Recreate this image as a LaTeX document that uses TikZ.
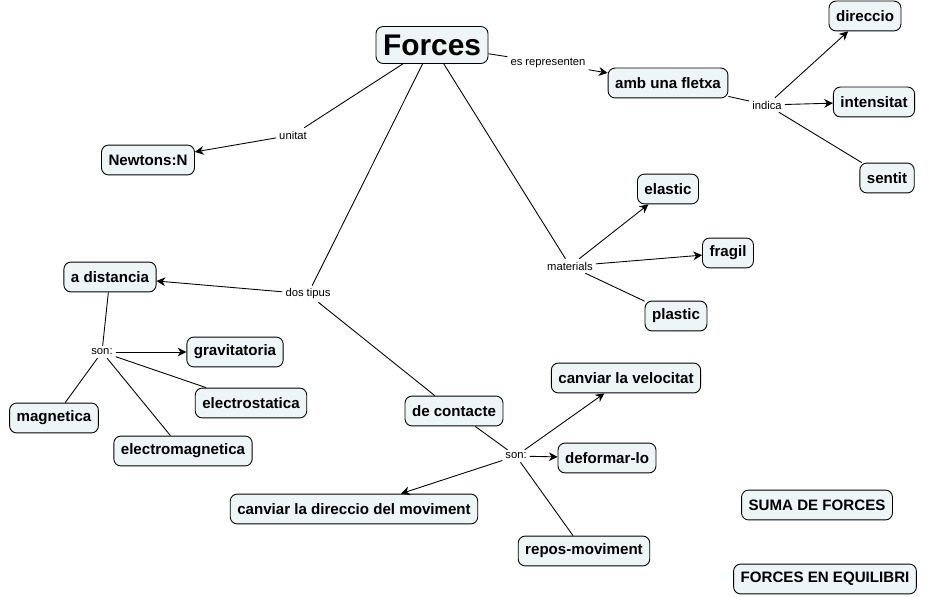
\documentclass[tikz,border=0pt]{standalone}
\usepackage{fontspec}
\setmainfont{Liberation Sans}
\usetikzlibrary{arrows.meta}
\definecolor{conceptfill}{rgb}{0.93,0.96,0.97}
\tikzset{concept/.style={draw,rounded corners=4pt,fill=conceptfill,font=\bfseries\fontsize{8.6}{10}\selectfont,inner sep=4pt,minimum height=17pt},
         link/.style={font=\fontsize{6.4}{8}\selectfont,inner sep=1.5pt},
         to/.style={-{Stealth[length=5pt,width=5pt]}}}
\begin{document}
\begin{tikzpicture}[x=0.02cm,y=-0.02cm,line width=0.5pt]
\useasboundingbox (0,0) rectangle (936,597);
% concepts
\node[concept,font=\bfseries\fontsize{17}{20}\selectfont,minimum height=21pt] (Forces) at (432,45) {Forces};
\node[concept] (Fletxa) at (668,83) {amb una fletxa};
\node[concept] (Direccio) at (865,16) {direccio};
\node[concept] (Intensitat) at (874,102) {intensitat};
\node[concept] (Sentit) at (887,178) {sentit};
\node[concept] (Newtons) at (148,160) {Newtons:N};
\node[concept] (Distancia) at (110,277) {a distancia};
\node[concept] (Gravit) at (235,352) {gravitatoria};
\node[concept] (Electrost) at (251,403) {electrostatica};
\node[concept] (Magnetica) at (54,418) {magnetica};
\node[concept] (Electromag) at (183,451) {electromagnetica};
\node[concept] (Elastic) at (668,189) {elastic};
\node[concept] (Fragil) at (728,253) {fragil};
\node[concept] (Plastic) at (676,316) {plastic};
\node[concept] (Contacte) at (454,411) {de contacte};
\node[concept] (Velocitat) at (626,378) {canviar la velocitat};
\node[concept] (Deformar) at (607,458) {deformar-lo};
\node[concept] (Canviar) at (354,509) {canviar la direccio del moviment};
\node[concept] (Repos) at (584,551) {repos-moviment};
\node[concept] (Suma) at (817,505) {SUMA DE FORCES};
\node[concept] (Equilibri) at (825,579) {FORCES EN EQUILIBRI};
% link labels
\node[link] (Repr) at (548,63) {es representen};
\node[link] (Indica) at (767,105) {indica};
\node[link] (Unitat) at (293,135) {unitat};
\node[link] (Tipus) at (308,294) {dos tipus};
\node[link] (Materials) at (570,266) {materials};
\node[link] (SonA) at (102,352) {son:};
\node[link] (SonB) at (516,456) {son:};
% connectors
\draw (Forces) -- (Repr); \draw[to] (Repr) -- (Fletxa);
\draw (Fletxa) -- (Indica);
\draw[to] (Indica) -- (Direccio); \draw[to] (Indica) -- (Intensitat); \draw (Indica) -- (Sentit);
\draw (Forces) -- (Unitat); \draw[to] (Unitat) -- (Newtons);
\draw (Forces) -- (Tipus); \draw[to] (Tipus) -- (Distancia); \draw (Tipus) -- (Contacte);
\draw (Forces) -- (Materials);
\draw[to] (Materials) -- (Elastic); \draw[to] (Materials) -- (Fragil); \draw (Materials) -- (Plastic);
\draw (Distancia) -- (SonA);
\draw[to] (SonA) -- (Gravit); \draw (SonA) -- (Electrost); \draw (SonA) -- (Magnetica); \draw (SonA) -- (Electromag);
\draw (Contacte) -- (SonB);
\draw[to] (SonB) -- (Velocitat); \draw[to] (SonB) -- (Deformar); \draw[to] (SonB) -- (Canviar); \draw (SonB) -- (Repos);
\end{tikzpicture}
\end{document}
